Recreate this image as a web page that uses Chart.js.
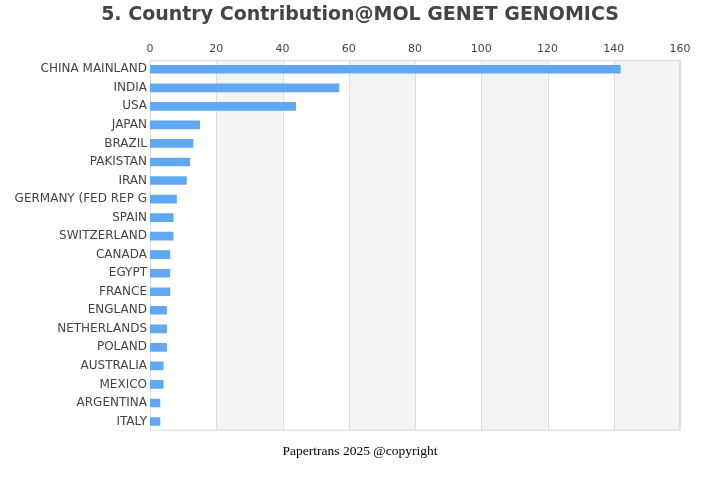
<!DOCTYPE html>
<html>
<head>
<meta charset="utf-8">
<script src="https://cdn.jsdelivr.net/npm/chart.js@4/dist/chart.umd.min.js"></script>
<style>
  html, body { margin: 0; padding: 0; background: #fff; }
  #wrap { width: 720px; height: 480px; }
</style>
</head>
<body>
<div id="wrap"><canvas id="chart"></canvas></div>
<script>
const countries = [
    "CHINA MAINLAND", "INDIA", "USA", "JAPAN", "BRAZIL", "PAKISTAN", "IRAN",
    "GERMANY (FED REP G", "SPAIN", "SWITZERLAND", "CANADA", "EGYPT", "FRANCE",
    "ENGLAND", "NETHERLANDS", "POLAND", "AUSTRALIA", "MEXICO", "ARGENTINA", "ITALY"
];
const papers = [142, 57, 44, 15, 13, 12, 11, 8, 7, 7, 6, 6, 6, 5, 5, 5, 4, 4, 3, 3];
const xTicks = [0, 20, 40, 60, 80, 100, 120, 140, 160];

// shade every other 20-wide column, then outline the plot area
const bands = {
    id: "bands",
    beforeDatasetsDraw(chart) {
        const { ctx, chartArea, scales } = chart;
        const x = scales.x;
        ctx.save();
        ctx.fillStyle = "#f3f3f3";
        for (let i = 1; i < xTicks.length - 1; i += 2) {
            const x0 = x.getPixelForValue(xTicks[i]);
            const x1 = x.getPixelForValue(xTicks[i + 1]);
            ctx.fillRect(x0, chartArea.top, x1 - x0, chartArea.bottom - chartArea.top);
        }
        ctx.strokeStyle = "#dddddd";
        ctx.lineWidth = 1;
        ctx.strokeRect(chartArea.left + 0.5, chartArea.top + 0.5,
            chartArea.right - chartArea.left - 1, chartArea.bottom - chartArea.top - 1);
        for (const t of xTicks) {
            const px = Math.round(x.getPixelForValue(t)) + 0.5;
            ctx.beginPath();
            ctx.moveTo(px, chartArea.top);
            ctx.lineTo(px, chartArea.bottom);
            ctx.stroke();
        }
        ctx.restore();
    }
};

new Chart(document.getElementById("chart"), {
    type: "bar",
    data: {
        labels: countries,
        datasets: [{
            data: papers,
            backgroundColor: "#60a8f4",
            borderWidth: 0,
            barThickness: 8
        }]
    },
    options: {
        indexAxis: "y",
        responsive: true,
        maintainAspectRatio: false,
        animation: false,
        layout: { padding: { left: 0, right: 0, top: 0, bottom: 10 } },
        scales: {
            x: {
                position: "top",
                min: 0,
                max: 160,
                afterBuildTicks(scale) {
                    scale.ticks = xTicks.map(v => ({ value: v }));
                },
                grid: { display: false, drawTicks: false },
                border: { display: false },
                ticks: {
                    padding: 4,
                    color: "#444",
                    font: { family: "DejaVu Sans", size: 11 }
                }
            },
            y: {
                afterFit(scale) { scale.width = 150; },
                grid: { display: false, drawTicks: false },
                border: { display: false },
                ticks: {
                    padding: 3,
                    color: "#444",
                    font: { family: "DejaVu Sans", size: 12 }
                }
            },
            // empty right-hand axis, only reserves the margin on the right
            gap: {
                type: "linear",
                position: "right",
                afterFit(scale) { scale.width = 40; },
                grid: { display: false },
                border: { display: false },
                ticks: { display: false }
            }
        },
        plugins: {
            legend: { display: false },
            tooltip: { enabled: false },
            title: {
                display: true,
                text: "5. Country Contribution@MOL GENET GENOMICS",
                color: "#444",
                font: { family: "DejaVu Sans", size: 19, weight: "bold" },
                padding: { top: 4, bottom: 12 }
            },
            subtitle: {
                display: true,
                position: "bottom",
                text: "Papertrans 2025 @copyright",
                color: "#000",
                font: { family: "Liberation Serif", size: 13.5, weight: "normal" },
                padding: { top: 13, bottom: 10 }
            }
        }
    },
    plugins: [bands]
});
</script>
</body>
</html>
